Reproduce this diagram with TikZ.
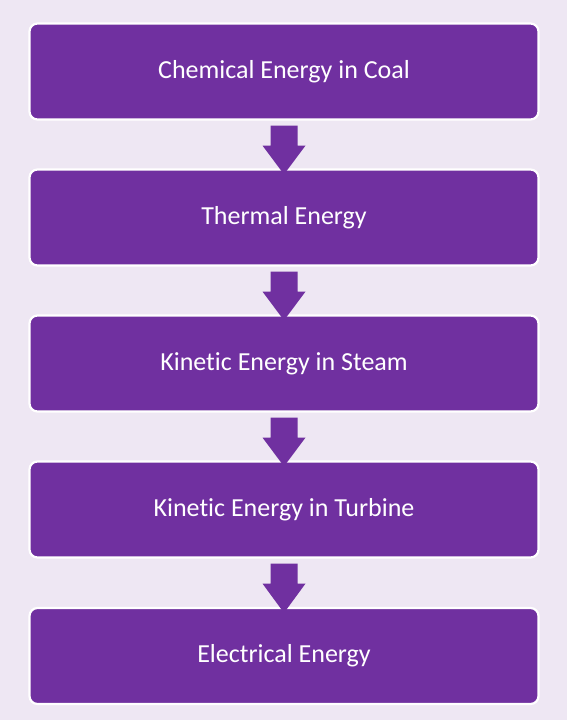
\documentclass[tikz,border=0pt]{standalone}
\usepackage{fontspec}
\setmainfont[Ligatures=NoCommon]{Carlito}
\usetikzlibrary{calc}
\definecolor{bgc}{RGB}{238,231,243}
\definecolor{boxc}{RGB}{112,48,160}
\tikzset{
  stagebox/.style={draw=white, line width=2.2pt, fill=boxc, rounded corners=8pt,
    minimum width=509pt, minimum height=96pt, inner sep=0pt,
    text=white, font=\fontsize{26}{30}\selectfont},
  blockarrow/.style={fill=boxc, draw=none}
}
\begin{document}
\begin{tikzpicture}[x=1pt,y=1pt]
\fill[bgc] (0,0) rectangle (567,-720);
\useasboundingbox (0,0) rectangle (567,-720);
\node[stagebox] (b1) at (284,-71.5) {Chemical Energy in Coal};
\node[stagebox] (b2) at (284,-217.5) {Thermal Energy};
\node[stagebox] (b3) at (284,-363.5) {Kinetic Energy in Steam};
\node[stagebox] (b4) at (284,-509.5) {Kinetic Energy in Turbine};
\node[stagebox] (b5) at (284,-656) {Electrical Energy};
\foreach \a/\b in {b1/b2,b2/b3,b3/b4,b4/b5}{
  \fill[blockarrow] ($(\a.south)+(-13.5,-5)$) -- ($(\a.south)+(13.5,-5)$)
    -- ($(\a.south)+(13.5,-25)$) -- ($(\a.south)+(21.5,-25)$)
    -- ($(\b.north)+(0,-6)$) -- ($(\a.south)+(-21.5,-25)$)
    -- ($(\a.south)+(-13.5,-25)$) -- cycle;
}
\end{tikzpicture}
\end{document}
